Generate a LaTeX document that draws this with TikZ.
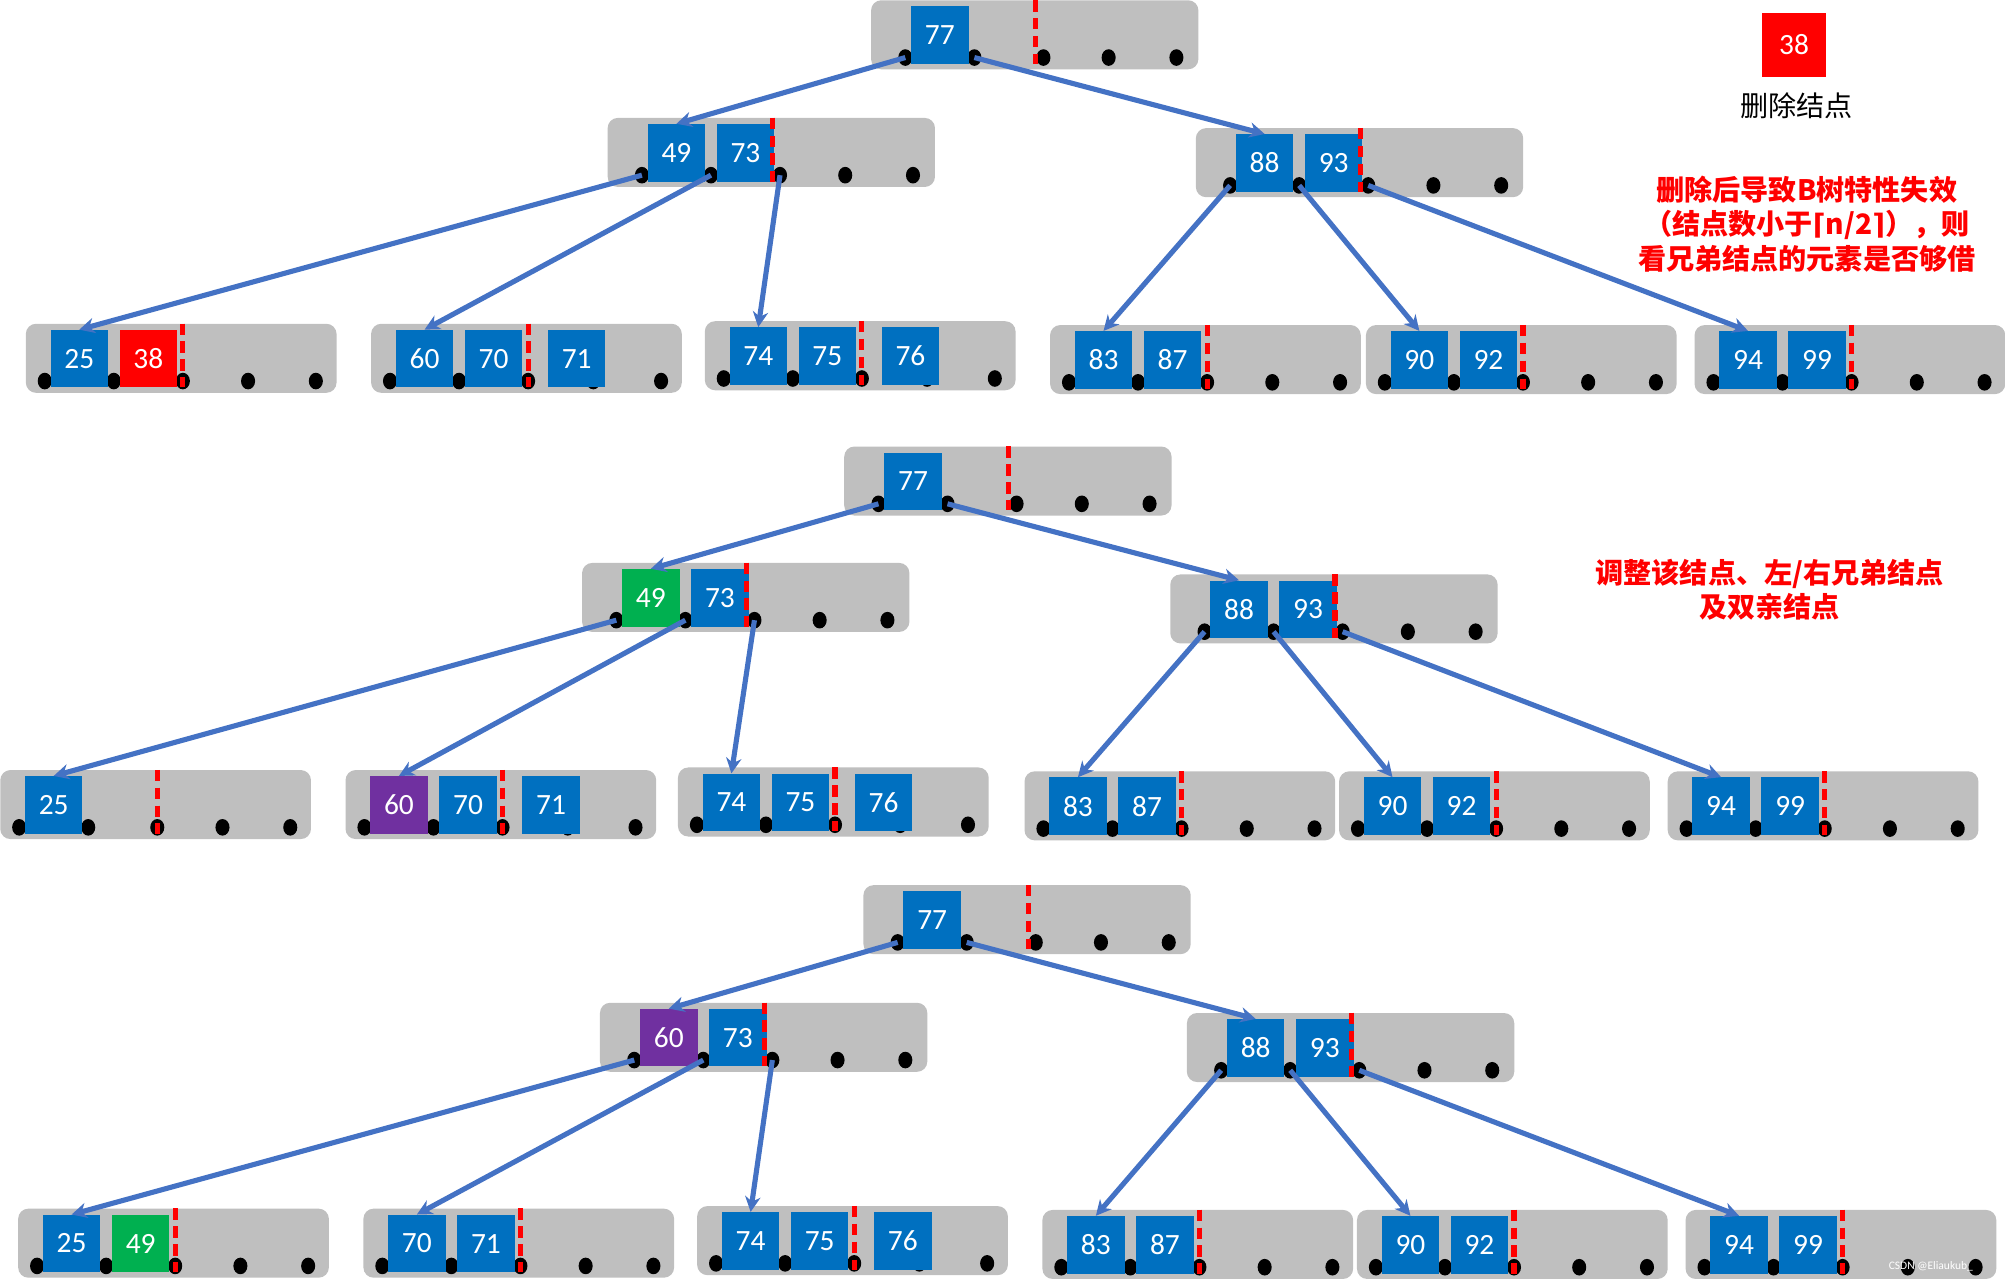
\documentclass[tikz,border=0pt]{standalone}
\usepackage{fontspec}
\setmainfont{Carlito}
\newfontfamily\cjk{Noto Sans CJK SC}
\newfontfamily\dvs{DejaVu Sans}
\usetikzlibrary{arrows.meta}
\definecolor{kblue}{HTML}{0070C0}
\definecolor{eblue}{HTML}{4472C4}
\definecolor{gbg}{HTML}{BFBFBF}
\definecolor{kgreen}{HTML}{00B050}
\definecolor{kpurple}{HTML}{7030A0}
\tikzset{
 gbox/.style={fill=gbg,rounded corners=8pt,minimum height=54pt,inner sep=0pt,draw=none},
 key/.style={minimum width=45pt,minimum height=45pt,inner sep=0pt,text=white,font=\fontsize{23}{23}\selectfont},
 rdash/.style={red,line width=4pt,dash pattern=on 9pt off 5pt},
 edge/.style={eblue,line width=4pt,-{Stealth[length=12pt,width=12pt]}},
 note/.style={red,font=\cjk\bfseries\fontsize{22}{27}\selectfont,align=center}
}
% #1 name #2 x0 #3 ytop #4 dot offset #5 width #6 dash shift #7 keys color/text/idx
\newcommand\BT[7]{%
 \node[gbox,minimum width=#5pt,anchor=north west] (#1) at (#2,#3) {};
 \foreach \d/\i in {0/1,54/2,108/3,159/4,212/5} {
   \fill ({#2+#4+\d},{#3+45}) ellipse (5.5 and 6.5);
   \coordinate (#1d\i) at ({#2+#4+\d},{#3+45});
 }
 \foreach \kc/\kt/\kj in {#7} {
   \ifcase\kj\or\def\kx{27}\or\def\kx{81}\or\def\kx{146}\fi
   \node[key,fill=\kc] (#1k\kj) at ({#2+#4+\kx},{#3+27.5}) {\kt};
 }
 \draw[rdash] ({#2+#4+108+#6},#3) -- ++(0,50);
}
\newcommand\IN[5]{\BT{#1}{#2}{#3}{27}{256}{-6}{#4}}
\newcommand\LF[4]{\BT{#1}{#2}{#3}{15}{243}{0}{#4}}
\begin{document}
\begin{tikzpicture}[x=1pt,y=-1pt]
\useasboundingbox (0,0) rectangle (1568,1002);
% tree 1
\IN{aR}{681}{0}{kblue/77/1}{}
\IN{aA}{475}{92}{kblue/49/1,kblue/73/2}{}
\IN{aB}{935}{100}{kblue/88/1,kblue/93/2}{}
\LF{aL}{20}{253}{kblue/25/1,red/38/2}
\LF{aM}{290}{253}{kblue/60/1,kblue/70/2,kblue/71/3}
\LF{aN}{551}{251}{kblue/74/1,kblue/75/2,kblue/76/3}
\LF{aP}{821}{254}{kblue/83/1,kblue/87/2}
\LF{aQ}{1068}{254}{kblue/90/1,kblue/92/2}
\LF{aS}{1325}{254}{kblue/94/1,kblue/99/2}
\draw[edge] (aRd1) -- (aAk1.north);
\draw[edge] (aRd2) -- (aBk1.north);
\draw[edge] (aAd1) -- (aLk1.north);
\draw[edge] (aAd2) -- (aMk1.north);
\draw[edge] (aAd3) -- (aNk1.north);
\draw[edge] (aBd1) -- (aPk1.north);
\draw[edge] (aBd2) -- (aQk1.north);
\draw[edge] (aBd3) -- (aSk1.north);
% tree 2
\IN{bR}{660}{349}{kblue/77/1}{}
\IN{bA}{455}{440}{kgreen/49/1,kblue/73/2}{}
\IN{bB}{915}{449}{kblue/88/1,kblue/93/2}{}
\LF{bL}{0}{602}{kblue/25/1}
\LF{bM}{270}{602}{kpurple/60/1,kblue/70/2,kblue/71/3}
\LF{bN}{530}{600}{kblue/74/1,kblue/75/2,kblue/76/3}
\LF{bP}{801}{603}{kblue/83/1,kblue/87/2}
\LF{bQ}{1047}{603}{kblue/90/1,kblue/92/2}
\LF{bS}{1304}{603}{kblue/94/1,kblue/99/2}
\draw[edge] (bRd1) -- (bAk1.north);
\draw[edge] (bRd2) -- (bBk1.north);
\draw[edge] (bAd1) -- (bLk1.north);
\draw[edge] (bAd2) -- (bMk1.north);
\draw[edge] (bAd3) -- (bNk1.north);
\draw[edge] (bBd1) -- (bPk1.north);
\draw[edge] (bBd2) -- (bQk1.north);
\draw[edge] (bBd3) -- (bSk1.north);
% tree 3
\IN{cR}{675}{692}{kblue/77/1}{}
\IN{cA}{469}{784}{kpurple/60/1,kblue/73/2}{}
\IN{cB}{928}{792}{kblue/88/1,kblue/93/2}{}
\LF{cL}{14}{945}{kblue/25/1,kgreen/49/2}
\LF{cM}{284}{945}{kblue/70/1,kblue/71/2}
\LF{cN}{545}{943}{kblue/74/1,kblue/75/2,kblue/76/3}
\LF{cP}{815}{946}{kblue/83/1,kblue/87/2}
\LF{cQ}{1061}{946}{kblue/90/1,kblue/92/2}
\LF{cS}{1318}{946}{kblue/94/1,kblue/99/2}
\draw[edge] (cRd1) -- (cAk1.north);
\draw[edge] (cRd2) -- (cBk1.north);
\draw[edge] (cAd1) -- (cLk1.north);
\draw[edge] (cAd2) -- (cMk1.north);
\draw[edge] (cAd3) -- (cNk1.north);
\draw[edge] (cBd1) -- (cPk1.north);
\draw[edge] (cBd2) -- (cQk1.north);
\draw[edge] (cBd3) -- (cSk1.north);
% legend
\node[key,fill=red,minimum width=50pt,minimum height=50pt] (leg) at (1403,35) {38};
\node[font=\cjk\fontsize{22}{24}\selectfont] (legt) at (1405,83) {删除结点};
\node[note] (n1) at (1413,175) {删除后导致B树特性失效\\（结点数小于{\dvs ⌈}n/2{\dvs ⌉}），则\\看兄弟结点的元素是否够借};
\node[note] (n2) at (1384,461) {调整该结点、左/右兄弟结点\\及双亲结点};
\node[font=\fontsize{9}{9}\selectfont,text=white] (wm) at (1510,990) {CSDN @Eliaukub\_};
\end{tikzpicture}
\end{document}
